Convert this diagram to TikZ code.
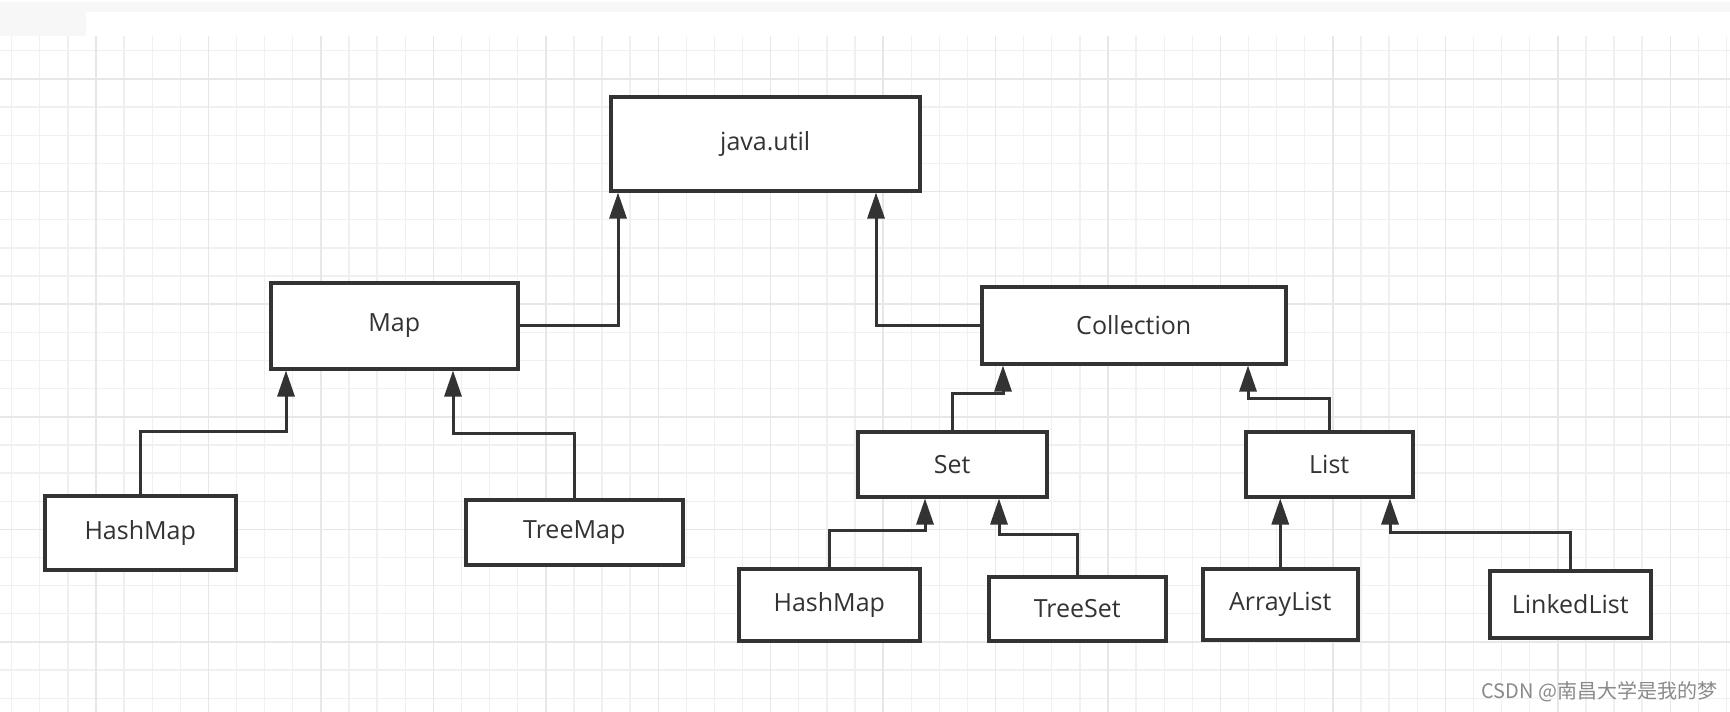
\documentclass[tikz,border=0pt]{standalone}
\usepackage{fontspec}
\usetikzlibrary{arrows.meta}
\newfontfamily\boxfont{Open Sans}
\newfontfamily\cjkfont{Noto Sans CJK SC}
\definecolor{linegray}{HTML}{333333}
\definecolor{gridminor}{HTML}{F0F0F0}
\definecolor{gridmajor}{HTML}{E7E7E7}
\definecolor{markgray}{HTML}{8A8A8A}
\tikzset{
  cls/.style={draw=linegray, line width=3.5pt, fill=white, text=linegray,
    font={\boxfont\fontsize{25}{30}\selectfont}, inner sep=0pt, anchor=north west},
  inh/.style={draw=linegray, line width=3pt, -{Triangle[length=26pt,width=17pt]}},
  minorline/.style={draw=gridminor, line width=1.3pt},
  majorline/.style={draw=gridmajor, line width=1.5pt}
}
\begin{document}
\begin{tikzpicture}[x=1pt,y=-1pt]
      \useasboundingbox (0,0) rectangle (1730,712);
      \fill[white] (0,0) rectangle (1730,712);
      \fill[black!3] (0,2) rectangle (1730,12);
      \fill[black!3] (0,12) rectangle (86,36);
      \foreach \i in {0,...,61}
        \draw[minorline] ({11.7+28.11*\i},36) -- ({11.7+28.11*\i},712);
      \foreach \j in {0,...,23}
        \draw[minorline] (0,{50.8+28.15*\j}) -- (1730,{50.8+28.15*\j});
      \foreach \i in {0,...,14}
        \draw[majorline] ({96+112.45*\i},36) -- ({96+112.45*\i},712);
      \foreach \j in {0,...,5}
        \draw[majorline] (0,{79+112.6*\j}) -- (1730,{79+112.6*\j});
      \node[cls, minimum width=309pt, minimum height=94pt] (util) at (609,95) {java.util};
      \node[cls, minimum width=247pt, minimum height=86pt] (map) at (269,281) {Map};
      \node[cls, minimum width=304pt, minimum height=77pt] (coll) at (980,285) {Collection};
      \node[cls, minimum width=189pt, minimum height=65pt] (set) at (856,430) {Set};
      \node[cls, minimum width=167pt, minimum height=65pt] (list) at (1244,430) {List};
      \node[cls, minimum width=191pt, minimum height=74pt] (hmap) at (43,494) {HashMap};
      \node[cls, minimum width=217pt, minimum height=65pt] (tmap) at (464,498) {TreeMap};
      \node[cls, minimum width=181pt, minimum height=72pt] (hset) at (737,567) {HashMap};
      \node[cls, minimum width=177pt, minimum height=64pt] (tset) at (987,575) {TreeSet};
      \node[cls, minimum width=155pt, minimum height=71pt] (alist) at (1201,567) {ArrayList};
      \node[cls, minimum width=161pt, minimum height=67pt] (llist) at (1488,569) {LinkedList};
      \node[text=markgray, font={\cjkfont\fontsize{20}{24}\selectfont}, anchor=east] (mark) at (1721,692) {CSDN @南昌大学是我的梦};
      \begin{scope}[inh]
        \draw (hmap.north) -- ++(0,-63) -| ([xshift=17pt]map.south west);
        \draw (tmap.north) -- ++(0,-65) -| ([xshift=184pt]map.south west);
        \draw (map.east) -| ([xshift=9pt]util.south west);
        \draw (coll.west) -| ([xshift=267pt]util.south west);
        \draw (set.north) -- ++(0,-37) -| ([xshift=23pt]coll.south west);
        \draw (list.north) -- ++(0,-32) -| ([xshift=268pt]coll.south west);
        \draw (hset.north) -- ++(0,-37) -| ([xshift=69pt]set.south west);
        \draw (tset.north) -- ++(0,-41) -| ([xshift=143pt]set.south west);
        \draw (alist.north) -- (alist.north |- list.south);
        \draw (llist.north) -- ++(0,-37) -| ([xshift=146pt]list.south west);
      \end{scope}
    \end{tikzpicture}
\end{document}
